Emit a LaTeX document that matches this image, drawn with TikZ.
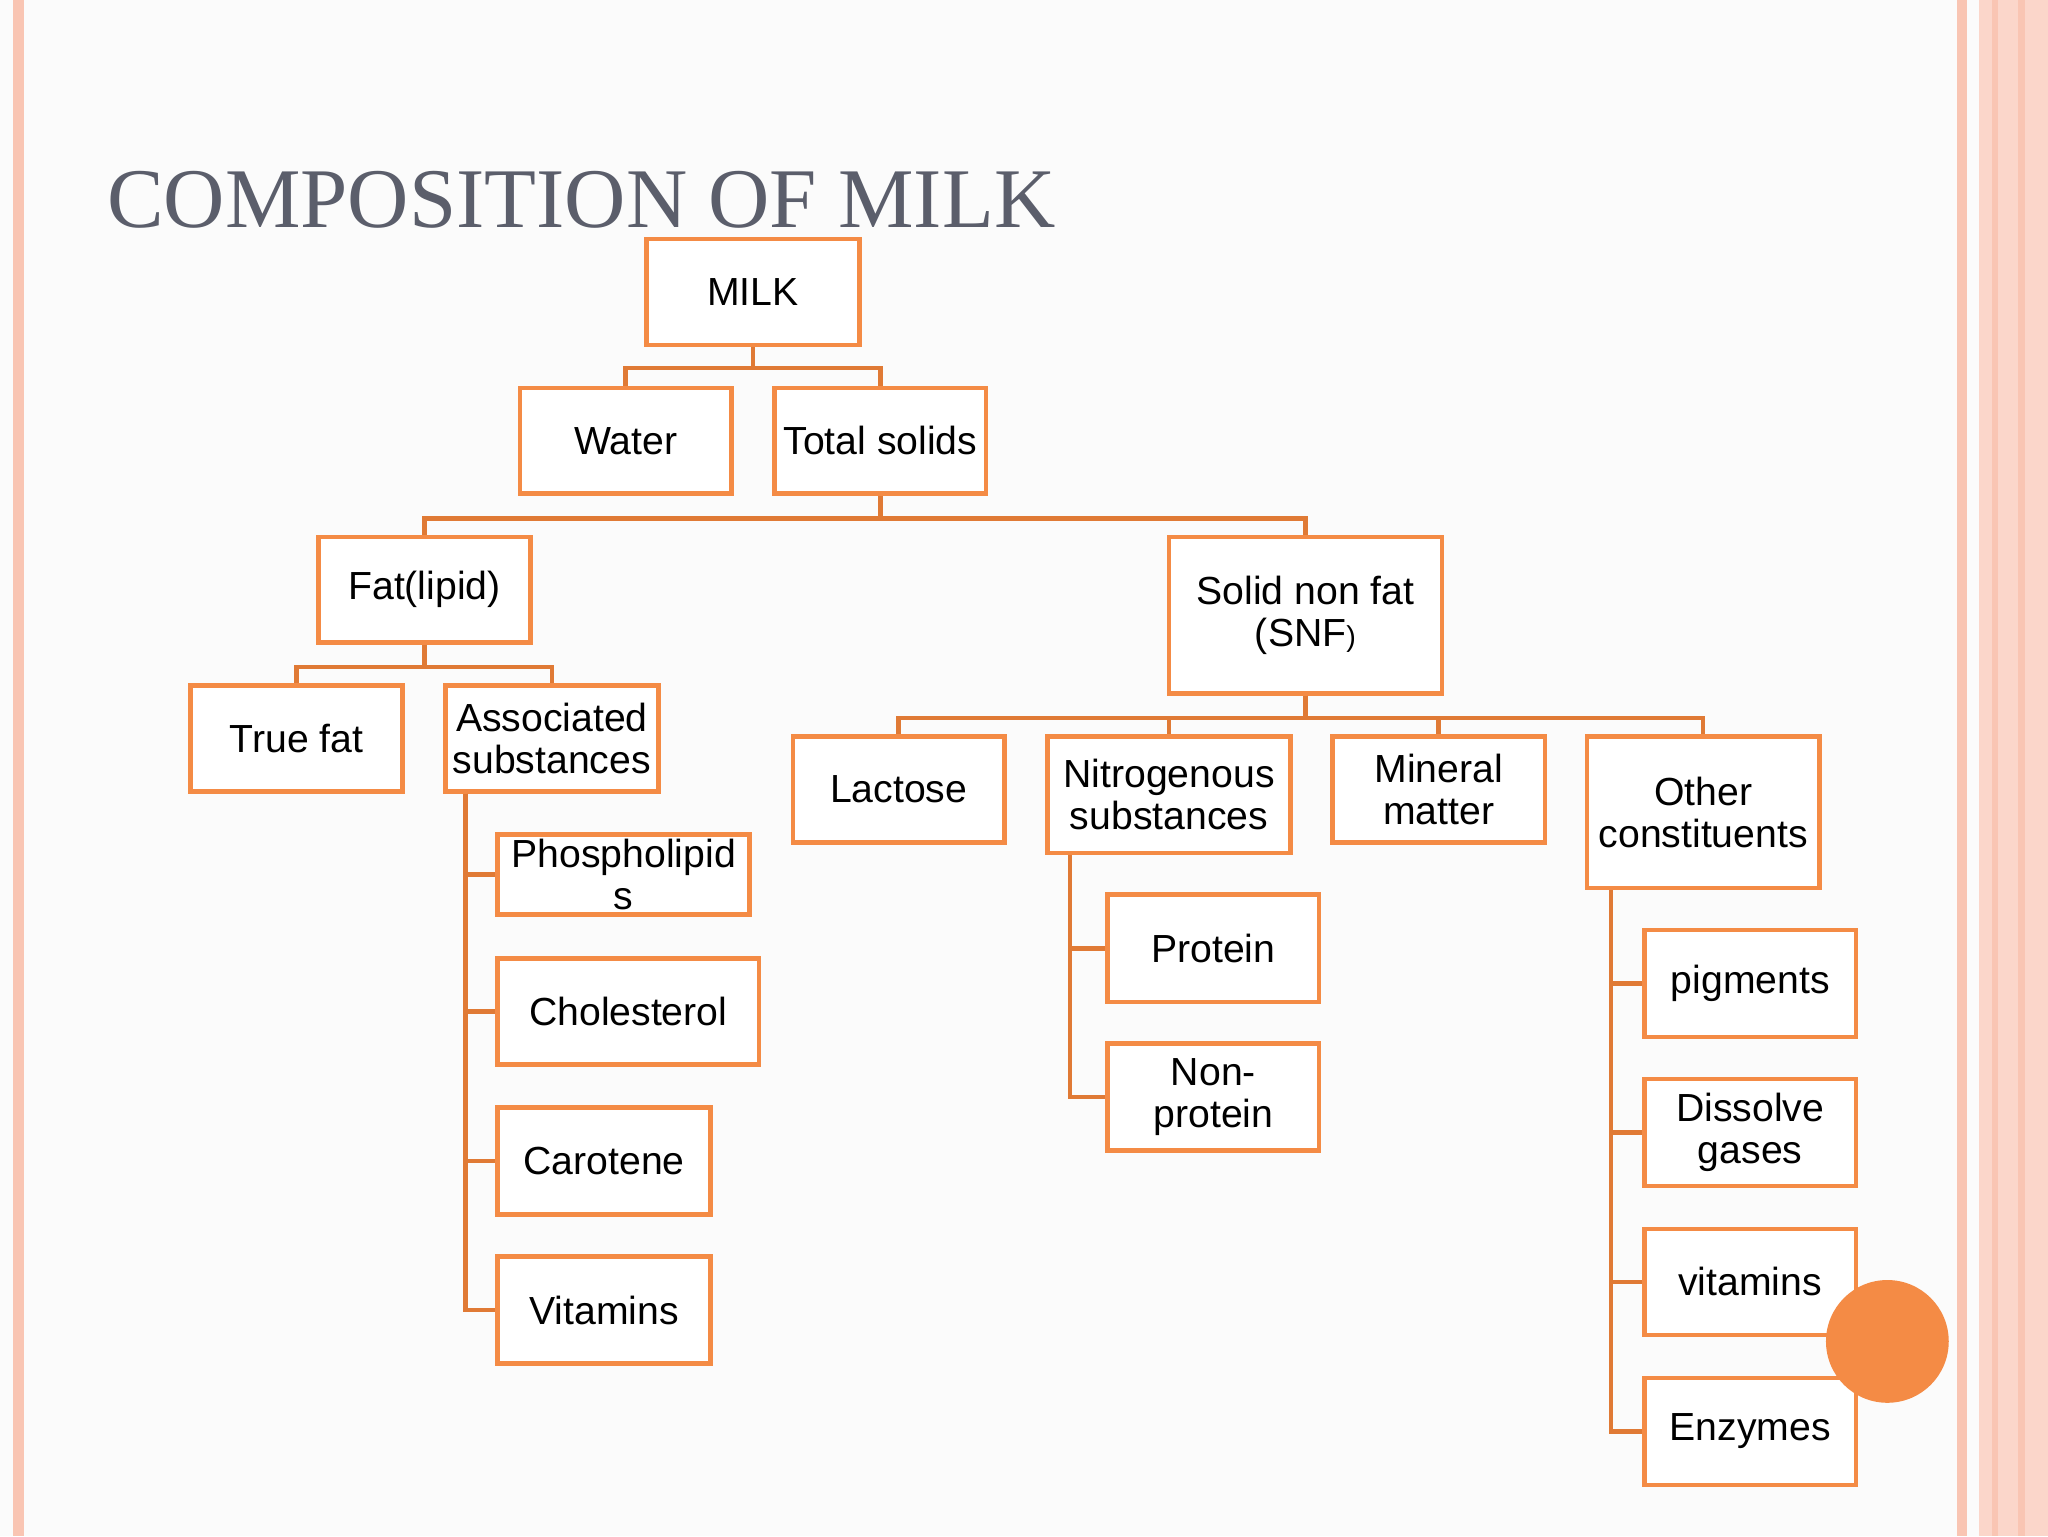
\documentclass[tikz,border=0pt]{standalone}
\usepackage{fontspec}
\setmainfont{Liberation Sans}
\newfontfamily\titlefont{Liberation Serif}
\definecolor{boxc}{HTML}{F48B45}
\definecolor{linec}{HTML}{E07A35}
\definecolor{titlec}{HTML}{5B5E6B}
\definecolor{stripe}{HTML}{F9C5B3}
\begin{document}
\begin{tikzpicture}[x=1pt,y=-1pt,
  box/.style={draw=boxc,line width=3.5pt,fill=white,inner sep=0pt,align=center,font=\fontsize{30}{32}\selectfont},
  conn/.style={draw=linec,line width=3.5pt}]
\useasboundingbox (0,0) rectangle (1568,1176);
\fill[white!97!gray] (0,0) rectangle (1568,1176);
\fill[stripe] (10,0) rectangle (18,1176);
\fill[stripe] (1498,0) rectangle (1506,1176);
\fill[stripe!70!white] (1515,0) rectangle (1568,1176);
\fill[stripe] (1525,0) rectangle (1530,1176);
\fill[stripe] (1545,0) rectangle (1550,1176);
\node[anchor=base west,text=titlec,font=\titlefont\fontsize{65}{65}\selectfont,inner sep=0pt] (title) at (82,174) {COMPOSITION OF MILK};
\node[box,minimum width=163,minimum height=81] (milk) at (576.5,223.5) {MILK};
\node[box,minimum width=162,minimum height=81] (water) at (479,337.5) {Water};
\node[box,minimum width=162,minimum height=81] (ts) at (674,337.5) {Total solids};
\node[box,minimum width=162,minimum height=81] (fat) at (325,451.5) {Fat(lipid)};
\node[box,minimum width=209,minimum height=120] (snf) at (999.5,471) {Solid non fat\\(SNF\raisebox{0pt}{\fontsize{22}{22}\selectfont)}};
\node[box,minimum width=162,minimum height=81] (tf) at (227,565.5) {True fat};
\node[box,minimum width=163,minimum height=81] (assoc) at (422.5,565.5) {Associated\\substances};
\node[box,minimum width=193,minimum height=61] (phos) at (477.5,669.5) {Phospholipid\\s};
\node[box,minimum width=200,minimum height=81] (chol) at (481,774.5) {Cholesterol};
\node[box,minimum width=163,minimum height=82] (car) at (462.5,889) {Carotene};
\node[box,minimum width=163,minimum height=82] (vit) at (462.5,1003) {Vitamins};
\node[box,minimum width=162,minimum height=81] (lac) at (688,604.5) {Lactose};
\node[box,minimum width=186,minimum height=89] (nit) at (895,608.5) {Nitrogenous\\substances};
\node[box,minimum width=163,minimum height=81] (min) at (1101.5,604.5) {Mineral\\matter};
\node[box,minimum width=178,minimum height=116] (oth) at (1304,622) {Other\\constituents};
\node[box,minimum width=162,minimum height=82] (prot) at (929,726) {Protein};
\node[box,minimum width=162,minimum height=82] (nonp) at (929,840) {Non-\\protein};
\node[box,minimum width=162,minimum height=82] (pig) at (1340,753) {pigments};
\node[box,minimum width=162,minimum height=82] (dis) at (1340,867) {Dissolve\\gases};
\node[box,minimum width=162,minimum height=81] (ovit) at (1340,981.5) {vitamins};
\node[box,minimum width=162,minimum height=82] (enz) at (1340,1096) {Enzymes};
\draw[conn] (milk.south) -- ++(0,16) -| (water.north);
\draw[conn] (milk.south) -- ++(0,16) -| (ts.north);
\draw[conn] (ts.south) -- ++(0,17) -| (fat.north);
\draw[conn] (ts.south) -- ++(0,17) -| (snf.north);
\draw[conn] (fat.south) -- ++(0,17) -| (tf.north);
\draw[conn] (fat.south) -- ++(0,17) -| (assoc.north);
\foreach \c in {phos,chol,car,vit} \draw[conn] ([xshift=17pt]assoc.south west) |- (\c.west);
\foreach \c in {lac,nit,min,oth} \draw[conn] (snf.south) -- ++(0,17) -| (\c.north);
\foreach \c in {prot,nonp} \draw[conn] ([xshift=19pt]nit.south west) |- (\c.west);
\foreach \c in {pig,dis,ovit,enz} \draw[conn] ([xshift=20pt]oth.south west) |- (\c.west);
\fill[boxc] (1445,1027) circle (47);
\end{tikzpicture}
\end{document}
